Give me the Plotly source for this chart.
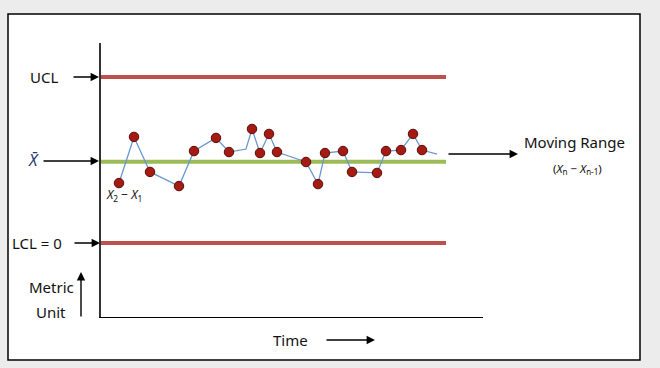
import plotly.graph_objects as go

# ---- data (time index, metric value) ----
time_pts = [1.8, 3.3, 4.9, 7.8, 9.3, 11.5, 12.8, 14.5, 15.1, 15.9, 16.8, 17.6,
            20.5, 21.7, 22.4, 24.2, 25.1, 27.6, 28.5, 30.0, 31.2, 32.1, 33.6]
values = [3.61, 6.39, 4.28, 3.43, 5.54, 6.33, 5.48, 5.66, 6.87, 5.42, 6.57, 5.48,
          4.88, 3.55, 5.42, 5.54, 4.28, 4.22, 5.54, 5.60, 6.57, 5.60, 5.36]
has_marker = [True, True, True, True, True, True, True, False, True, True, True, True,
              True, True, True, True, True, True, True, True, True, True, False]

UCL = 10.0
MEAN = 4.9
LCL = 0.0
limit_span = [0.0, 34.5]

# ---- layout geometry (pixels) ----
W, H = 660, 368
L, R, T, B = 101, 483, 43, 317
XR = [0, 38.2]
YR = [-4.46, 12.05]

def px(p):
    return (p - L) / (R - L)

def py(p):
    return (B - p) / (B - T)

fig = go.Figure()

for val, col, wid in [(UCL, "#c0504d", 4), (MEAN, "#9bbb59", 4), (LCL, "#c0504d", 4)]:
    fig.add_trace(go.Scatter(x=limit_span, y=[val, val], mode="lines",
                             line=dict(color=col, width=wid), hoverinfo="skip",
                             showlegend=False))

fig.add_trace(go.Scatter(x=time_pts, y=values, mode="lines",
                         line=dict(color="#6a98d2", width=1.3), showlegend=False))

mx = [t for t, m in zip(time_pts, has_marker) if m]
my = [v for v, m in zip(values, has_marker) if m]
fig.add_trace(go.Scatter(x=mx, y=my, mode="markers",
                         marker=dict(size=9.5, color="#a51a12",
                                     line=dict(color="#5c0a06", width=1)),
                         showlegend=False))

# outer white box
fig.add_shape(type="rect", xref="paper", yref="paper",
              x0=px(8), x1=px(640), y0=py(360), y1=py(14),
              fillcolor="white", line=dict(color="black", width=1.5), layer="below")

FAM = "Noto Sans, Open Sans, sans-serif"
ann = []

def text(x, y, s, size=15, color="#111", xanchor="center"):
    ann.append(dict(xref="paper", yref="paper", x=px(x), y=py(y), text=s,
                    showarrow=False, xanchor=xanchor, yanchor="middle",
                    font=dict(family=FAM, size=size, color=color)))

def arrow(x_head, y_head, ax, ay):
    ann.append(dict(xref="paper", yref="paper", x=px(x_head), y=py(y_head),
                    ax=ax, ay=ay, axref="pixel", ayref="pixel", text="",
                    showarrow=True, arrowhead=2, arrowsize=1.2, arrowwidth=1.4,
                    arrowcolor="black"))

text(44, 77, "UCL")
arrow(99, 77, -27, 0)
text(33, 160, "<i>X̄</i>", 16, color="#1f3a6e")
arrow(99, 161, -57, 0)
text(37, 243, "LCL = 0")
arrow(100, 243, -27, 0)
text(51, 287, "Metric")
text(51, 312, "Unit")
arrow(81, 272, 0, 46)
text(290, 340, "Time")
arrow(375, 340, -50, 0)
text(574, 142, "Moving Range")
text(577, 169, "(<i>X</i><sub>n</sub> − <i>X</i><sub>n-1</sub>)", 11.5)
arrow(518, 154, -71, 0)
text(104, 195, "<i>X</i><sub>2</sub> − <i>X</i><sub>1</sub>", 12, xanchor="left")

fig.update_layout(
    width=W, height=H,
    margin=dict(l=L, r=W - R, t=T, b=H - B),
    paper_bgcolor="#ececec",
    plot_bgcolor="white",
    annotations=ann,
    showlegend=False,
    xaxis=dict(range=XR, showgrid=False, zeroline=False, showticklabels=False,
               ticks="", showline=True, linecolor="black", linewidth=1, fixedrange=True),
    yaxis=dict(range=YR, showgrid=False, zeroline=False, showticklabels=False,
               ticks="", showline=True, linecolor="#333", linewidth=2, fixedrange=True),
)

fig.write_html("out.html",
               config={"displayModeBar": False},
               post_script="document.body.style.margin='0';"
                           "document.body.style.background='#ececec';")
